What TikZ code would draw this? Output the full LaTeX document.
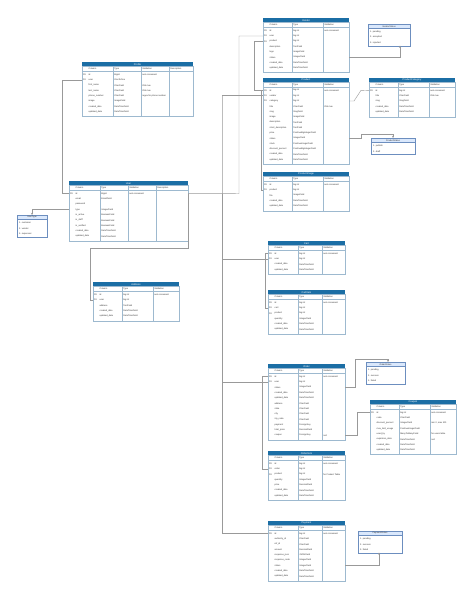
\documentclass[tikz,border=0pt]{standalone}
\usepackage{fontspec}
\setmainfont{Liberation Sans}
\usetikzlibrary{arrows.meta}
\definecolor{erblue}{HTML}{1B6EA5}
\definecolor{ergrid}{HTML}{9DB9CF}
\definecolor{ertext}{HTML}{333333}
\definecolor{enumfill}{HTML}{DAE8FC}
\definecolor{enumline}{HTML}{6C8EBF}
\definecolor{relline}{HTML}{999999}
\newcommand{\cellfont}{\fontsize{2.2}{2.5}\selectfont}
\newcommand{\titlefont}{\fontsize{2.5}{2.8}\selectfont}
\tikzset{
  gridline/.style={draw=ergrid, line width=0.3pt},
  titlebar/.style={fill=erblue},
  titletext/.style={text=white, font=\titlefont, inner sep=0pt},
  celltext/.style={text=ertext, font=\cellfont, inner sep=0pt, anchor=west},
  enumbox/.style={draw=enumline, line width=0.3pt, fill=white},
  enumtitle/.style={draw=enumline, line width=0.3pt, fill=enumfill},
  enumtext/.style={text=ertext, font=\cellfont, inner sep=0pt},
  rel/.style={draw=relline, line width=0.4pt},
  enumarrow/.style={rel, -{Stealth[length=2.2pt,width=2pt]}},
}
% table geometries
\newcommand{\geomwide}{\def\tw{86}\def\dva{29}\def\dvb{60}%
  \def\hdrs{6.5/Column,30.2/Type,61.2/Validation}\def\dvs{29,60}}
\newcommand{\geomnarrow}{\def\tw{77}\def\dva{30}\def\dvb{54}%
  \def\hdrs{6.5/Column,31.2/Type,55.2/Validation}\def\dvs{30,54}}
\newcommand{\geomuser}[1]{\def\tw{#1}\def\dva{31}\def\dvb{59}%
  \def\hdrs{6.5/Column,32.2/Type,60.2/Validation,88.2/Description}\def\dvs{31,59,87}}
% #1 id, #2 x, #3 y, #4 title, #5 number of rows, #6 rows
\newcommand{\ertable}[6]{%
  \pgfmathsetmacro\tb{#3+10+#5*5.33+2}
  \fill[titlebar] (#2,#3) rectangle (#2+\tw,#3+4.5);
  \node[titletext] (#1) at (#2+\tw/2,#3+2.25) {#4};
  \draw[gridline] (#2,#3+4.5) rectangle (#2+\tw,\tb);
  \draw[gridline] (#2,#3+9.5) -- (#2+\tw,#3+9.5);
  \foreach \dx in \dvs {\draw[gridline] (#2+\dx,#3+4.5) -- (#2+\dx,\tb);}
  \foreach \hx/\hl [count=\j] in \hdrs {\node[celltext] (#1-h\j) at (#2+\hx,#3+7) {\hl};}
  \foreach \ky/\nm/\tp/\vd [count=\i] in {#6} {
    \pgfmathsetmacro\yc{#3+10+(\i-0.5)*5.33}
    \coordinate (#1-w\i) at (#2,\yc);
    \coordinate (#1-e\i) at (#2+\tw,\yc);
    \node[celltext] (#1-k\i) at (#2+1,\yc) {\ky};
    \node[celltext] (#1-n\i) at (#2+6.5,\yc) {\nm};
    \node[celltext] (#1-t\i) at (#2+\dva+1.2,\yc) {\tp};
    \node[celltext] (#1-v\i) at (#2+\dvb+1.2,\yc) {\vd};
  }
}
% #1 id, #2 x, #3 y, #4 width, #5 title, #6 number of items, #7 items
\newcommand{\erenum}[7]{%
  \pgfmathsetmacro\eb{#3+5+#6*5.4+0.5}
  \draw[enumbox] (#2,#3) rectangle (#2+#4,\eb);
  \draw[enumtitle] (#2,#3) rectangle (#2+#4,#3+4.5);
  \node[enumtext] (#1) at (#2+#4/2,#3+2.25) {#5};
  \foreach \itm [count=\i] in {#7} {
    \pgfmathsetmacro\ey{#3+8+(\i-1)*5.4}
    \node[celltext] (#1-\i) at (#2+2,\ey) {\itm};
  }
}

\begin{document}
\begin{tikzpicture}[x=1pt,y=-1pt]
  \fill[white] (0,0) rectangle (474,597);
  \useasboundingbox (0,0) rectangle (474,597);

  % tables
  \geomwide
  \ertable{vendor}{263}{18}{Vendor}{8}{PK/id/big int/auto increment, FK/user/big int/, FK/product/big int/,
    /description/TextField/, /logo/ImageField/, /status/IntegerField/,
    /created\_date/DateTimeField/, /updated\_date/DateTimeField/}
  \ertable{product}{263}{77.7}{Product}{14}{PK/id/big int/auto increment, FK/vendor/big int/,
    FK/category/big int/, /title/CharField/255 max, /slug/SlugField/, /image/ImageField/,
    /description/TextField/, /short\_description/TextField/, /price/PositiveBigIntegerField/,
    /status/IntegerField/, /stock/PositiveIntegerField/, /discount\_percent/PositiveBigIntegerField/,
    /created\_date/DateTimeField/, /updated\_date/DateTimeField/}
  \ertable{category}{369}{78}{ProductCategory}{5}{PK/id/big int/auto increment, /title/CharField/255 max,
    /slug/SlugField/, /created\_date/DateTimeField/, /updated\_date/DateTimeField/}
  \ertable{image}{263}{172}{ProductImage}{5}{PK/id/big int/auto increment, FK/product/big int/,
    /file/ImageField/, /created\_date/DateTimeField/, /updated\_date/DateTimeField/}
  \ertable{address}{93}{282}{Address}{5}{PK/id/big int/auto increment, FK/user/big int/,
    /address/TextField/, /created\_date/DateTimeField/, /updated\_date/DateTimeField/}
  \ertable{coupon}{370}{400}{Coupon}{8}{PK/id/big int/auto increment, /code/CharField/,
    /discount\_percent/IntegerField/{min 0, max 100}, /max\_limit\_usage/PositiveIntegerField/,
    /used\_by/ManyToManyField/for users table, /expiration\_date/DateTimeField/null,
    /created\_date/DateTimeField/, /updated\_date/DateTimeField/}
  \geomuser{111}
  \ertable{profile}{82}{62}{Profile}{8}{PK/id/Bigint/auto increment, FK/user/OneToOne/,
    /first\_name/CharField/255 max, /last\_name/CharField/255 max,
    /phone\_number/CharField/regex for phone number, /image/ImageField/,
    /created\_date/DateTimeField/, /updated\_date/DateTimeField/}
  \geomuser{119}
  \ertable{user}{69}{181}{User}{9}{PK/id/Bigint/auto increment, /email/EmailField/, /password//,
    /type/IntegerField/, /is\_active/BooleanField/, /is\_staff/BooleanField/,
    /is\_verified/BooleanField/, /created\_date/DateTimeField/, /updated\_date/DateTimeField/}
  \geomnarrow
  \ertable{cart}{268}{241}{Cart}{4}{PK/id/big int/auto increment, FK/user/big int/,
    /created\_date/DateTimeField/, /updated\_date/DateTimeField/}
  \ertable{cartitem}{268}{290}{CartItem}{6}{PK/id/big int/auto increment, FK/cart/big int/,
    FK/product/big int/, /quantity/IntegerField/, /created\_date/DateTimeField/,
    /updated\_date/DateTimeField/}
  \ertable{order}{268}{364}{Order}{12}{PK/id/big int/auto increment, FK/user/big int/,
    /status/IntegerField/, /created\_date/DateTimeField/, /updated\_date/DateTimeField/,
    /address/CharField/, /state/CharField/, /city/CharField/, /zip\_code/CharField/,
    /payment/ForeignKey/, /total\_price/DecimalField/, /coupon/ForeignKey/null}
  \ertable{orderitem}{268}{451}{OrderItem}{7}{PK/id/big int/auto increment, FK/order/big int/,
    FK/product/big int/for Product Table, /quantity/IntegerField/, /price/DecimalField/,
    /created\_date/DateTimeField/, /updated\_date/DateTimeField/}
  \ertable{payment}{268}{521}{Payment}{9}{PK/id/big int/auto increment, /authority\_id/CharField/,
    /ref\_id/CharField/, /amount/DecimalField/, /response\_json/JSONField/,
    /response\_code/IntegerField/, /status/IntegerField/, /created\_date/DateTimeField/,
    /updated\_date/DateTimeField/}

  % enums
  \erenum{vstatus}{368}{24}{42}{VendorStatus}{3}{1. pending, 2. accepted, 3. rejected}
  \erenum{pstatus}{371}{138}{44}{ProductStatus}{2}{1. publish, 2. draft}
  \erenum{utype}{17}{215}{30}{UserType}{3}{1. customer, 2. vendor, 3. superuser}
  \erenum{ostatus}{366}{362}{39}{OrderStatus}{3}{1. pending, 2. success, 3. failed}
  \erenum{paystatus}{358}{531}{44}{PaymentStatus}{3}{1. pending, 2. success, 3. failed}

  % enum links
  \coordinate (vs-in) at (400,45.7);
  \coordinate (ps-in) at (393,138);
  \coordinate (ut-in) at (32,215);
  \coordinate (os-in) at (388,362);
  \coordinate (pay-in) at (379,552.5);
  \draw[enumarrow] (vendor-e6) -| (vs-in);
  \draw[enumarrow] (product-e10) -- ++(12,0) -- ++(0,-4.5) -| (ps-in);
  \draw[enumarrow] (user-w4) -| (ut-in);
  \draw[enumarrow] (order-e3) -- ++(10,0) -- ++(0,-28) -| (os-in);
  \draw[enumarrow] (payment-e7) -| (pay-in);

  % relations
  \coordinate (trunk-top) at (222,96);
  \coordinate (trunk-user) at (222,193.7);
  \coordinate (trunk-addr) at (188,248);
  \draw[rel] (product-e3) -- ++(5,0) -- ++(7,-10.7) -- (category-w1);
  \draw[rel] (order-e12) -- ++(12,0) |- (coupon-w1);
  \draw[rel] (user-w1) -- ++(-7,0) |- (profile-w2);
  \draw[rel] (user-e1) -- (239,193.7) |- (vendor-w2);
  \draw[rel] (product-w1) -- ++(-8.7,0) |- (vendor-w3);
  \draw[rel] (product-w1) -- ++(-2,0) |- (image-w2);
  \draw[rel] (cart-w1) -- ++(-3,0) |- (cartitem-w2);
  \draw[rel] (order-w1) -- ++(-6,0) |- (orderitem-w2);
  \draw[rel] (product-w2) -| (trunk-top) |- (payment-w1);
  \draw[rel] (trunk-user) |- (cart-w2);
  \draw[rel] (trunk-user) |- (order-w2);
  \draw[rel] (user-e1) -| (trunk-addr) -| ++(-98,0) |- (address-w2);
\end{tikzpicture}
\end{document}
